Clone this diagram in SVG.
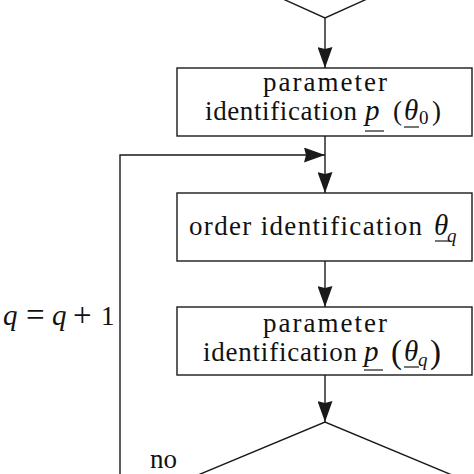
<svg xmlns="http://www.w3.org/2000/svg" width="474" height="474" viewBox="0 0 474 474">
  <style>
    .box { fill: #ffffff; stroke: #1a1a1a; stroke-width: 1.4; }
    .shape { fill: none; stroke: #1a1a1a; stroke-width: 1.4; }
    .edge { fill: none; stroke: #1a1a1a; stroke-width: 1.4; }
    .ul { stroke: #1a1a1a; stroke-width: 1.2; }
    text { font-family: "Liberation Serif", "Times New Roman", serif; font-size: 27px; fill: #111111; }
    .it { font-style: italic; font-size: 29px; }
    .sub { font-size: 19px; }
    .big { font-size: 33px; }
    .op { font-size: 33px; }
  </style>
  <defs>
    <marker id="arrow" viewBox="0 0 21 15" refX="21" refY="7.5" markerWidth="21" markerHeight="15" markerUnits="userSpaceOnUse" orient="auto">
      <path d="M0,0 L21,7.5 L0,15 L2,7.5 Z" fill="#1a1a1a"/>
    </marker>
  </defs>
  <rect width="474" height="474" fill="#ffffff"/>

  <g id="connectors">
    <line class="edge" x1="325" y1="18" x2="325" y2="68" marker-end="url(#arrow)"/>
    <line class="edge" x1="325" y1="136" x2="325" y2="193" marker-end="url(#arrow)"/>
    <polyline class="edge" points="120,476 120,155 325,155" marker-end="url(#arrow)"/>
    <line class="edge" x1="325" y1="261" x2="325" y2="307" marker-end="url(#arrow)"/>
    <line class="edge" x1="325" y1="375" x2="325" y2="422" marker-end="url(#arrow)"/>
  </g>

  <g id="decision-top">
    <polyline class="shape" points="283,-1 325,18 367,-1"/>
  </g>

  <g id="param-id-0">
    <rect class="box" x="177" y="68" width="295" height="68"/>
    <text x="263" y="91"><tspan textLength="124" lengthAdjust="spacing">parameter</tspan><tspan x="205" y="120" textLength="152" lengthAdjust="spacing">identification</tspan><tspan class="it" x="365">p</tspan><tspan x="393">(</tspan><tspan class="it" x="404">θ</tspan><tspan class="sub" x="419" dy="4">0</tspan><tspan x="432" dy="-4">)</tspan></text>
    <line class="ul" x1="365" y1="131" x2="384" y2="131"/>
    <line class="ul" x1="404" y1="127" x2="419" y2="127"/>
  </g>

  <g id="order-id">
    <rect class="box" x="177" y="193" width="295" height="68"/>
    <text x="189" y="235"><tspan textLength="233" lengthAdjust="spacing">order identification</tspan><tspan class="it" x="434">θ</tspan><tspan class="sub it" x="447" dy="7">q</tspan></text>
    <line class="ul" x1="435" y1="241" x2="450" y2="241"/>
  </g>

  <g id="param-id-q">
    <rect class="box" x="177" y="307" width="295" height="68"/>
    <text x="263" y="332"><tspan textLength="124" lengthAdjust="spacing">parameter</tspan><tspan x="203" y="361" textLength="154" lengthAdjust="spacing">identification</tspan><tspan class="it" x="364">p</tspan><tspan class="big" x="391" dy="2">(</tspan><tspan class="it" x="404" dy="-2">θ</tspan><tspan class="sub it" x="418" dy="5">q</tspan><tspan class="big" x="430" dy="-3">)</tspan></text>
    <line class="ul" x1="364" y1="370" x2="383" y2="370"/>
    <line class="ul" x1="404" y1="367" x2="419" y2="367"/>
  </g>

  <g id="decision-bottom">
    <polyline class="shape" points="186,480 325,422 464,480"/>
  </g>

  <g id="labels">
    <text x="3" y="325"><tspan class="it">q</tspan><tspan class="op" x="26" dy="1">=</tspan><tspan class="it" x="52" dy="-1">q</tspan><tspan class="op" x="73" dy="1">+</tspan><tspan x="101" dy="-1">1</tspan></text>
    <text x="150" y="468">no</text>
  </g>
</svg>
